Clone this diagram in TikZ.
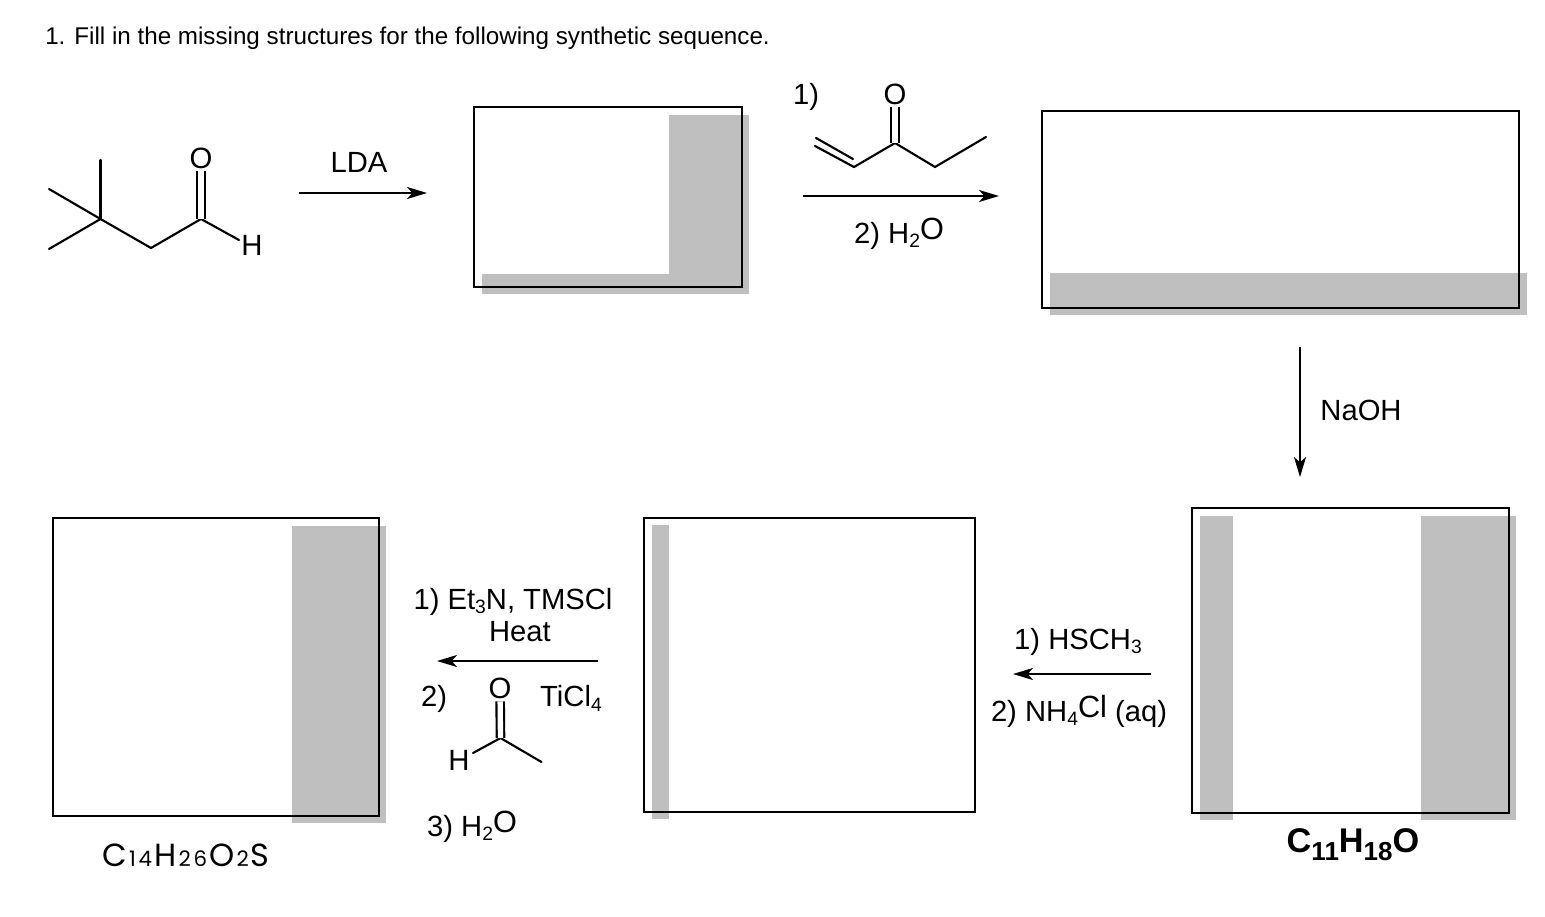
\documentclass[tikz,border=0pt]{standalone}
\usepackage{fontspec}
\setmainfont{Liberation Sans}
\newfontfamily\formulafont[LetterSpace=13]{Poppins}
\usetikzlibrary{arrows.meta}
\usetikzlibrary{positioning}
\definecolor{boxgray}{HTML}{BFBFBF}
\newcommand{\lowsub}[1]{\raisebox{-3pt}{\fontsize{14.5}{16}\selectfont #1}}
\newcommand{\upchar}[1]{\raisebox{2.5pt}{\fontsize{23}{24}\selectfont #1}}
\newcommand{\boldsub}[1]{\raisebox{-6pt}{\fontsize{19.5}{20}\selectfont #1}}
\newcommand{\flatsub}[1]{\kern1.6pt{\fontsize{16}{16}\selectfont #1}\kern1.6pt}

\begin{document}
\begin{tikzpicture}[
	x=0.75pt, y=-0.75pt,
	> = {Stealth[length=15pt,width=9pt,inset=4pt]},
	bond/.style = {line width=1.6pt, line cap=round},
	dblbond/.style = {line width=1.6pt, double, double distance=4pt, shorten >=1pt},
	rxn/.style = {->, line width=1.6pt},
	answer/.style = {draw=black, line width=1.6pt},
	shadow/.style = {fill=boxgray},
	lbl/.style = {inner sep=0pt, font=\fontsize{21.9}{24}\selectfont, align=center},
	atom/.style = {inner sep=1pt, font=\fontsize{22}{24}\selectfont}
	]
	\useasboundingbox (0,0) rectangle (1545,917);
	\fill[white] (0,0) rectangle (1545,917);

	\node[lbl, anchor=west, font=\fontsize{18.15}{22}\selectfont] (title) at (45,38) {1. Fill in the missing structures for the following synthetic sequence.};

	% answer boxes
	\fill[shadow] (669,115) rectangle (749,294);
	\fill[shadow] (482,274) rectangle (669,294);
	\draw[answer] (474,107) rectangle (742,287);

	\fill[shadow] (1050,273) rectangle (1527,315);
	\draw[answer] (1042,111) rectangle (1519,308);

	\fill[shadow] (1200,516) rectangle (1233,820);
	\fill[shadow] (1421,516) rectangle (1516,820);
	\draw[answer] (1192,508) rectangle (1509,813);

	\fill[shadow] (652,525) rectangle (669,819);
	\draw[answer] (644,518) rectangle (975,812);

	\fill[shadow] (292,526) rectangle (386,823);
	\draw[answer] (53,518) rectangle (379,816);

	% aldehyde
	\coordinate (@quat) at (100.5,219);
	\coordinate (@me1) at (100.5,160);
	\coordinate (@me2) at (49,189);
	\coordinate (@me3) at (49,249);
	\coordinate (@ch2) at (151,248);
	\coordinate (@cho) at (201,219);
	\coordinate (@choH) at (239,240);
	\node[atom] (oxoA) at (201,158) {O};
	\node[atom] (hydA) at (252,245) {H};
	\draw[bond] (@quat) -- (@me1);
	\draw[bond] (@quat) -- (@me2);
	\draw[bond] (@quat) -- (@me3);
	\draw[bond] (@quat) -- (@ch2) -- (@cho) -- (@choH);
	\draw[dblbond] (@cho) -- (oxoA);

	% enone
	\coordinate (@vin1) at (815,146);
	\coordinate (@vin2) at (854,167);
	\coordinate (@vin3) at (816,138);
	\coordinate (@vin4) at (853,159);
	\coordinate (@cok) at (895,143);
	\coordinate (@ch2b) at (935,167);
	\coordinate (@ch3b) at (986,137);
	\node[atom] (oxoB) at (895,94) {O};
	\draw[bond] (@vin1) -- (@vin2) -- (@cok) -- (@ch2b) -- (@ch3b);
	\draw[bond] (@vin3) -- (@vin4);
	\draw[dblbond] (@cok) -- (oxoB);

	% acetaldehyde
	\coordinate (@coa) at (500.5,738);
	\coordinate (@ch3c) at (541.5,762);
	\coordinate (@hbond) at (473,753);
	\node[atom] (oxoC) at (500,688) {O};
	\node[atom] (hydC) at (459,760) {H};
	\draw[bond] (@hbond) -- (@coa) -- (@ch3c);
	\draw[dblbond] (@coa) -- (oxoC);

	% reaction arrows
	\coordinate (@a1) at (299,193);
	\coordinate (@a2) at (427,193);
	\coordinate (@b1) at (803,196);
	\coordinate (@b2) at (999,196);
	\coordinate (@c1) at (1300,347);
	\coordinate (@c2) at (1300,477);
	\coordinate (@d1) at (1151,674);
	\coordinate (@d2) at (1013,674);
	\coordinate (@e1) at (598,661);
	\coordinate (@e2) at (437,661);
	\draw[rxn] (@a1) -- (@a2);
	\draw[rxn] (@b1) -- (@b2);
	\draw[rxn] (@c1) -- (@c2);
	\draw[rxn] (@d1) -- (@d2);
	\draw[rxn] (@e1) -- (@e2);

	% reagents
	\node[lbl] (lda) at (359,162) {LDA};
	\node[lbl] (stepB1) at (806,97) {1)};
	\node[lbl, anchor=base] (stepB2) at (899,243) {2) H\lowsub{2}\upchar{O}};
	\node[lbl] (naoh) at (1361,410) {NaOH};
	\node[lbl, anchor=base] (stepD1) at (1078,649) {1) HSCH\lowsub{3}};
	\node[lbl, anchor=base] (stepD2) at (1079,721) {2) NH\lowsub{4}\upchar{Cl} (aq)};
	\node[lbl, anchor=base] (stepE1) at (513,609) {1) Et\lowsub{3}N, TMSCl};
	\node[lbl, anchor=base] (stepE2) at (520,641) {Heat};
	\node[lbl, anchor=base] (stepE3) at (434,706) {2)};
	\node[lbl, anchor=base] (ticl) at (571,706) {TiCl\raisebox{-1pt}{\lowsub{4}}};
	\node[lbl, anchor=base] (stepE4) at (472,836) {3) H\lowsub{2}\upchar{O}};

	% formulas
	\node[lbl, anchor=base, font=\fontsize{25.7}{26}\bfseries\selectfont] (prodC) at (1353,852) {C\boldsub{11}H\boldsub{18}O};
	\node[lbl, anchor=base, font=\fontsize{24}{24}\formulafont\selectfont] (prodE) at (186,866) {C\flatsub{14}H\flatsub{26}O\flatsub{2}S};
\end{tikzpicture}
\end{document}
